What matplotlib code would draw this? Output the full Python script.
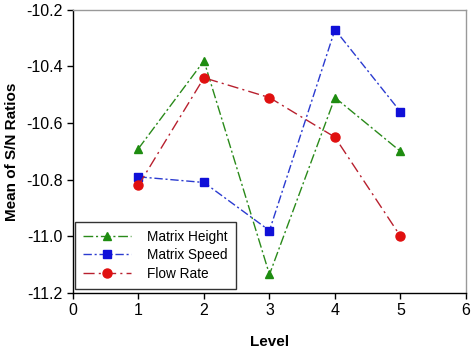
import matplotlib
matplotlib.use("Agg")
import matplotlib.pyplot as plt

plt.rcParams['font.family'] = ['Liberation Sans', 'DejaVu Sans']

levels = [1, 2, 3, 4, 5]
matrix_height = [-10.69, -10.38, -11.135, -10.51, -10.70]
matrix_speed = [-10.79, -10.81, -10.98, -10.27, -10.56]
flow_rate = [-10.82, -10.44, -10.51, -10.65, -11.00]

fig = plt.figure(figsize=(4.74, 3.52), dpi=100)
ax = fig.add_axes([0.154, 0.168, 0.829, 0.804])

ax.plot(levels, matrix_height, color='#2a8a1a', linestyle=(0, (7, 2, 1.5, 2)), lw=1.0,
        marker='^', markersize=6, markerfacecolor='#1e8c10', markeredgecolor='#1e8c10',
        label='Matrix Height')
ax.plot(levels, matrix_speed, color='#2b3bd0', linestyle=(0, (6, 2, 1.5, 2)), lw=1.0,
        marker='s', markersize=6, markerfacecolor='#1010d8', markeredgecolor='#1010d8',
        label='Matrix Speed')
ax.plot(levels, flow_rate, color='#b8202e', linestyle=(0, (8, 3, 1.5, 3)), lw=1.0,
        marker='o', markersize=6.5, markerfacecolor='#e01010', markeredgecolor='#e01010',
        label='Flow Rate')

ax.set_xlim(0, 6)
ax.set_ylim(-11.2, -10.2)
ax.set_xticks([0, 1, 2, 3, 4, 5, 6])
ax.set_yticks([-11.2, -11.0, -10.8, -10.6, -10.4, -10.2])
ax.set_yticklabels(['-11.2', '-11.0', '-10.8', '-10.6', '-10.4', '-10.2'])
ax.tick_params(direction='out', length=4, width=1, labelsize=11.5, colors='black')
ax.spines['top'].set_color('#999999')
ax.spines['right'].set_color('#999999')
ax.spines['left'].set_color('black')
ax.spines['bottom'].set_color('black')
for s in ax.spines.values():
    s.set_linewidth(1.0)

ax.set_xlabel('Level', fontsize=11, fontweight='bold', labelpad=12)
ax.set_ylabel('Mean of S/N Ratios', fontsize=11, fontweight='bold', labelpad=5)

leg = ax.legend(loc='lower left', bbox_to_anchor=(0.005, 0.014), fontsize=9.8,
                frameon=True, fancybox=False, edgecolor='black', handlelength=3.5,
                handletextpad=1.2, borderpad=0.6, labelspacing=0.33, borderaxespad=0)
leg.get_frame().set_linewidth(1.0)

fig.savefig('out.png', dpi=100)
